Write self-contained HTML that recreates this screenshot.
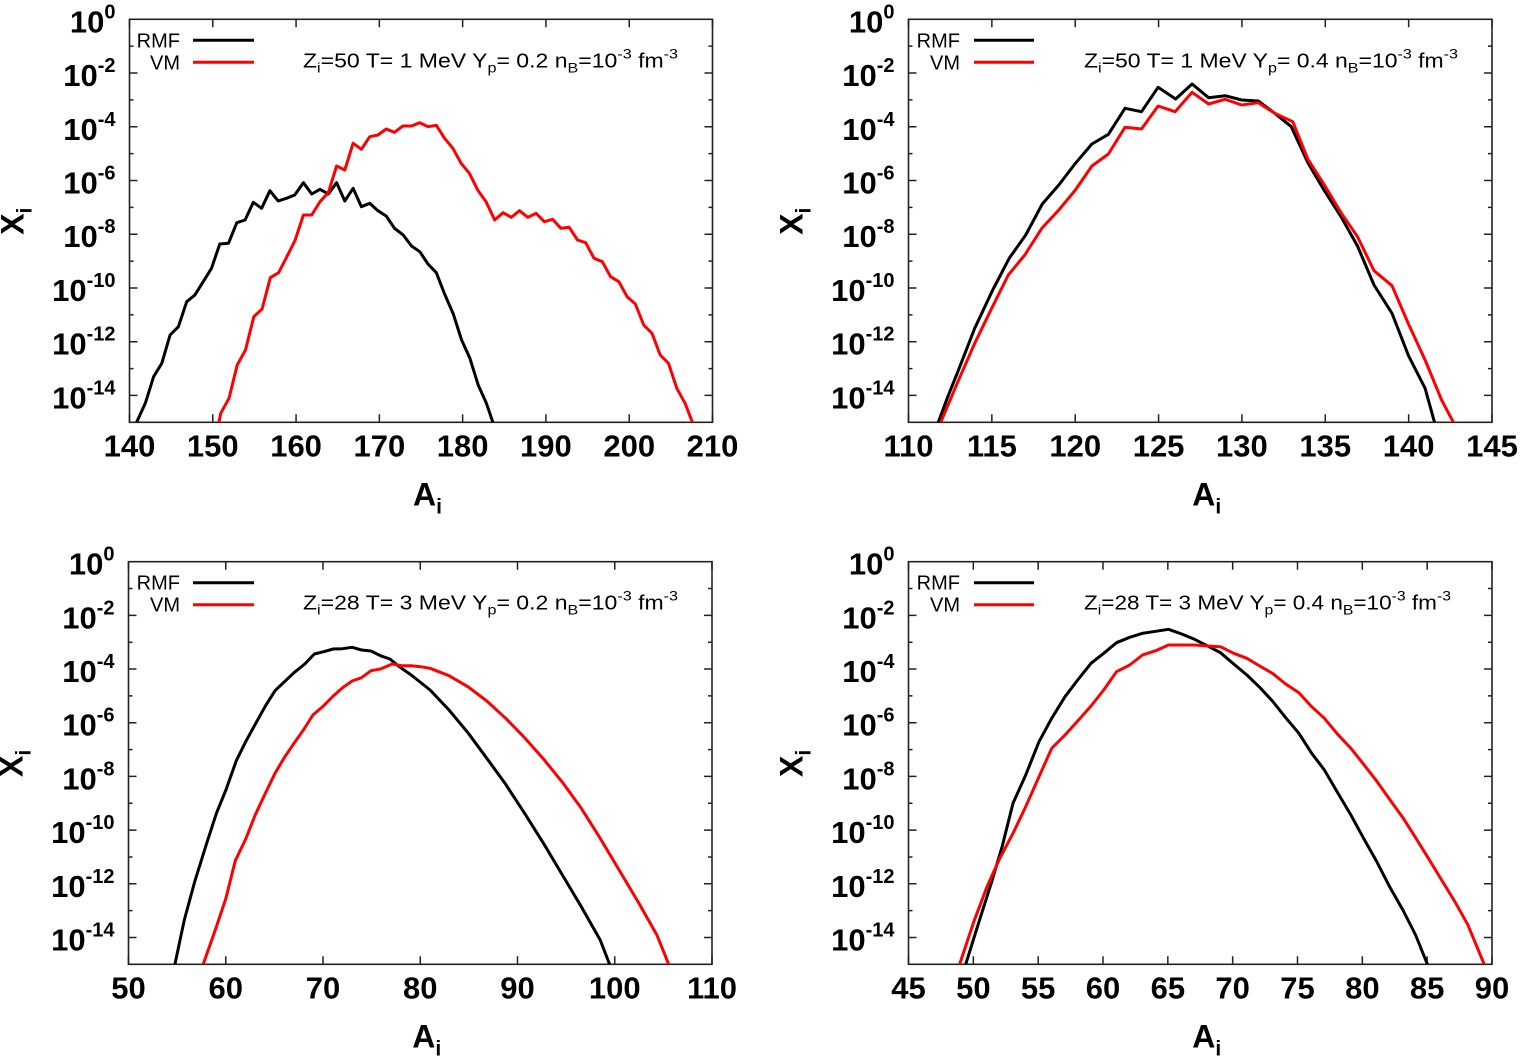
<!DOCTYPE html>
<html><head><meta charset="utf-8"><style>html,body{margin:0;padding:0;background:#fff}svg{display:block}</style></head>
<body>
<svg id="s" xmlns="http://www.w3.org/2000/svg" width="1520" height="1056" viewBox="0 0 1520 1056" font-family="Liberation Sans, sans-serif"></svg>
<script>
const S=document.getElementById('s');const NS='http://www.w3.org/2000/svg';
function el(t,a,txt){const e=document.createElementNS(NS,t);for(const k in a)e.setAttribute(k,a[k]);if(txt!==undefined)e.textContent=txt;S.appendChild(e);return e;}
function tx(x,y,html,a){const e=document.createElementNS(NS,'text');e.setAttribute('x',x);e.setAttribute('y',y);for(const k in a)e.setAttribute(k,a[k]);e.innerHTML=html;S.appendChild(e);return e;}
const panels=[
{L:129.5,R:712.5,T:19.3,B:422.3,x0:140,x1:210,dx:10,ox:0,oy:0,sx:2.175,
 leg:{tx:180,l1:193,l2:254},ann:{x:303,w:375},
 txt:'Z<tspan font-size="14" dy="5">i</tspan><tspan dy="-5">=50  T= 1 MeV  Y</tspan><tspan font-size="14" dy="5">p</tspan><tspan dy="-5">= 0.2  n</tspan><tspan font-size="14" dy="5">B</tspan><tspan dy="-5">=10</tspan><tspan font-size="14" dy="-9">-3</tspan><tspan dy="9"> fm</tspan><tspan font-size="14" dy="-9">-3</tspan>',
 k:[[297,1267],[316,1210],[334,1130],[352,1090],[370,1005],[388,980],[406,905],[424,885],[442,845],[460,805],[478,732],[497,730],[515,668],[533,660],[551,607],[569,625],[587,572],[605,603],[623,595],[641,585],[660,548],[678,582],[696,568],[714,582],[732,548],[750,603],[768,565],[786,620],[804,610],[822,632],[840,648],[858,685],[877,705],[895,738],[913,755],[931,792],[949,818],[967,882],[986,942],[1004,1020],[1022,1075],[1040,1155],[1058,1210],[1072,1267]],
 r:[[476,1267],[480,1240],[498,1195],[516,1095],[534,1050],[552,950],[570,927],[588,833],[606,818],[624,770],[642,720],[660,645],[678,645],[696,605],[714,578],[732,498],[750,510],[768,430],[786,448],[804,410],[822,405],[840,387],[858,397],[876,378],[895,378],[913,368],[931,380],[949,376],[967,415],[985,445],[1003,490],[1021,520],[1039,570],[1057,605],[1076,660],[1094,638],[1112,652],[1130,632],[1148,652],[1166,640],[1184,665],[1202,658],[1220,685],[1238,682],[1256,720],[1274,728],[1292,775],[1310,785],[1328,830],[1346,845],[1364,890],[1382,912],[1400,975],[1418,1000],[1436,1065],[1454,1090],[1472,1165],[1490,1210],[1506,1267]]},
{L:908.5,R:1492,T:19.3,B:422.3,x0:110,x1:145,dx:5,ox:780,oy:0,sx:2.116,
 leg:{tx:960,l1:974,l2:1034},ann:{x:1084,w:374},
 txt:'Z<tspan font-size="14" dy="5">i</tspan><tspan dy="-5">=50  T= 1 MeV  Y</tspan><tspan font-size="14" dy="5">p</tspan><tspan dy="-5">= 0.4  n</tspan><tspan font-size="14" dy="5">B</tspan><tspan dy="-5">=10</tspan><tspan font-size="14" dy="-9">-3</tspan><tspan dy="9"> fm</tspan><tspan font-size="14" dy="-9">-3</tspan>',
 k:[[335,1267],[355,1190],[375,1120],[412,985],[450,870],[485,775],[520,705],[555,612],[590,555],[625,490],[660,432],[695,403],[730,325],[765,335],[800,262],[837,297],[872,252],[907,293],[942,287],[977,300],[1012,303],[1047,340],[1082,380],[1117,488],[1152,572],[1187,650],[1222,738],[1257,855],[1295,940],[1330,1067],[1365,1165],[1385,1267]],
 r:[[340,1267],[375,1150],[412,1030],[448,925],[483,825],[518,765],[554,685],[590,630],[625,570],[660,498],[695,462],[730,382],[765,387],[800,318],[836,335],[872,277],[907,312],[942,298],[977,315],[1012,308],[1047,340],[1085,365],[1117,478],[1152,555],[1187,638],[1222,710],[1257,812],[1295,857],[1330,972],[1365,1080],[1400,1200],[1425,1267]]},
{L:128.5,R:712,T:561.7,B:964.3,x0:50,x1:110,dx:10,ox:0,oy:540,sx:2.116,
 leg:{tx:180,l1:193,l2:254},ann:{x:303,w:375},
 txt:'Z<tspan font-size="14" dy="5">i</tspan><tspan dy="-5">=28  T= 3 MeV  Y</tspan><tspan font-size="14" dy="5">p</tspan><tspan dy="-5">= 0.2  n</tspan><tspan font-size="14" dy="5">B</tspan><tspan dy="-5">=10</tspan><tspan font-size="14" dy="-9">-3</tspan><tspan dy="9"> fm</tspan><tspan font-size="14" dy="-9">-3</tspan>',
 k:[[370,1273],[390,1140],[412,1025],[435,920],[458,820],[478,750],[500,662],[520,605],[542,548],[562,497],[582,452],[602,425],[622,398],[645,372],[665,342],[685,335],[705,327],[725,326],[745,322],[765,330],[785,333],[805,347],[825,357],[845,380],[870,405],[910,450],[950,510],[990,578],[1030,655],[1070,733],[1110,820],[1150,910],[1190,1005],[1230,1100],[1270,1200],[1290,1273]],
 r:[[430,1273],[458,1160],[478,1075],[498,962],[520,897],[540,825],[562,758],[582,700],[602,652],[622,610],[642,570],[662,525],[685,497],[705,468],[725,443],[745,423],[765,413],[785,392],[805,387],[830,372],[850,377],[870,377],[890,380],[910,385],[950,407],[990,440],[1030,483],[1070,535],[1110,593],[1150,657],[1190,727],[1230,805],[1270,895],[1310,990],[1350,1085],[1390,1185],[1415,1273]]},
{L:908.5,R:1492,T:561.7,B:964.3,x0:45,x1:90,dx:5,ox:780,oy:540,sx:2.116,
 leg:{tx:960,l1:974,l2:1034},ann:{x:1084,w:367},
 txt:'Z<tspan font-size="14" dy="5">i</tspan><tspan dy="-5">=28  T= 3 MeV  Y</tspan><tspan font-size="14" dy="5">p</tspan><tspan dy="-5">= 0.4 n</tspan><tspan font-size="14" dy="5">B</tspan><tspan dy="-5">=10</tspan><tspan font-size="14" dy="-9">-3</tspan><tspan dy="9"> fm</tspan><tspan font-size="14" dy="-9">-3</tspan>',
 k:[[393,1273],[420,1150],[448,1025],[470,920],[493,790],[520,705],[548,605],[575,535],[603,470],[630,420],[658,370],[685,340],[712,308],[740,292],[767,280],[795,274],[822,268],[850,282],[877,298],[905,318],[932,338],[960,372],[988,405],[1015,442],[1042,483],[1070,533],[1098,580],[1125,640],[1152,690],[1180,758],[1208,825],[1235,895],[1262,963],[1290,1040],[1318,1110],[1345,1185],[1370,1273]],
 r:[[380,1273],[410,1145],[438,1040],[465,955],[493,880],[520,800],[548,710],[575,625],[603,585],[630,543],[658,498],[685,450],[712,395],[740,375],[767,345],[795,332],[822,315],[850,315],[877,315],[905,318],[932,320],[960,340],[988,355],[1015,378],[1042,400],[1070,432],[1098,458],[1125,500],[1152,535],[1180,583],[1208,625],[1235,673],[1262,722],[1290,778],[1318,833],[1345,893],[1372,955],[1400,1020],[1428,1085],[1455,1153],[1490,1273]]}
];
for(const p of panels){
 const dec=(p.B-p.T)/15;
 let d='';
 for(let i=0;i<=15;i++){const y=p.T+i*dec;const len=(i%2==0)?8:4;
  d+=`M${p.L},${y}h${len}M${p.R},${y}h${-len}`;
  if(i%2==0&&i<15){
   tx(p.L-14,y+13,'10<tspan font-size="20" dy="-14">'+(i==0?'0':'-'+i)+'</tspan>',{'font-size':31,'font-weight':'bold','text-anchor':'end'});
  }}
 for(let v=p.x0;v<=p.x1+1e-6;v+=p.dx){const x=p.L+(v-p.x0)/(p.x1-p.x0)*(p.R-p.L);
  d+=`M${x},${p.B}v-8M${x},${p.T}v8`;
  tx(x,p.B+34,String(v),{'font-size':31,'font-weight':'bold','text-anchor':'middle'});}
 el('path',{d:d,stroke:'#222','stroke-width':1.5,fill:'none'});
 el('rect',{x:p.L,y:p.T,width:p.R-p.L,height:p.B-p.T,fill:'none',stroke:'#222','stroke-width':1.6});
 const cx=(p.L+p.R)/2;
 tx(cx-8,p.B+83,'A<tspan font-size="21" dy="8">i</tspan>',{'font-size':32,'font-weight':'bold'});
 const my=(p.T+p.B)/2;
 const X=p.L-106,Y=my+14;
 tx(X,Y,'X<tspan font-size="21" dy="8">i</tspan>',{'font-size':32,'font-weight':'bold','transform':`rotate(-90 ${X} ${Y})`});
 tx(p.leg.tx,p.T+28,'RMF',{'font-size':20,'text-anchor':'end'});
 tx(p.leg.tx,p.T+50,'VM',{'font-size':20,'text-anchor':'end'});
 el('line',{x1:p.leg.l1,x2:p.leg.l2,y1:p.T+21,y2:p.T+21,stroke:'#000','stroke-width':3});
 el('line',{x1:p.leg.l1,x2:p.leg.l2,y1:p.T+43,y2:p.T+43,stroke:'#f00','stroke-width':3});
 tx(p.ann.x,p.T+48,p.txt,{'font-size':20,'textLength':p.ann.w,'lengthAdjust':'spacingAndGlyphs'});
 const conv=a=>a.map(q=>[(p.ox+q[0]/p.sx).toFixed(1),(p.oy+q[1]/3).toFixed(1)].join(',')).join(' ');
 const cid='c'+p.ox+'_'+p.oy;
 const cp=el('clipPath',{id:cid});const r=document.createElementNS(NS,'rect');
 r.setAttribute('x',p.L);r.setAttribute('y',p.T);r.setAttribute('width',p.R-p.L);r.setAttribute('height',p.B-p.T);cp.appendChild(r);
 el('polyline',{points:conv(p.k),fill:'none',stroke:'#000','stroke-width':3,'stroke-linejoin':'round','clip-path':`url(#${cid})`});
 el('polyline',{points:conv(p.r),fill:'none',stroke:'#f00','stroke-width':3,'stroke-linejoin':'round','clip-path':`url(#${cid})`});
}
</script>
</body></html>
